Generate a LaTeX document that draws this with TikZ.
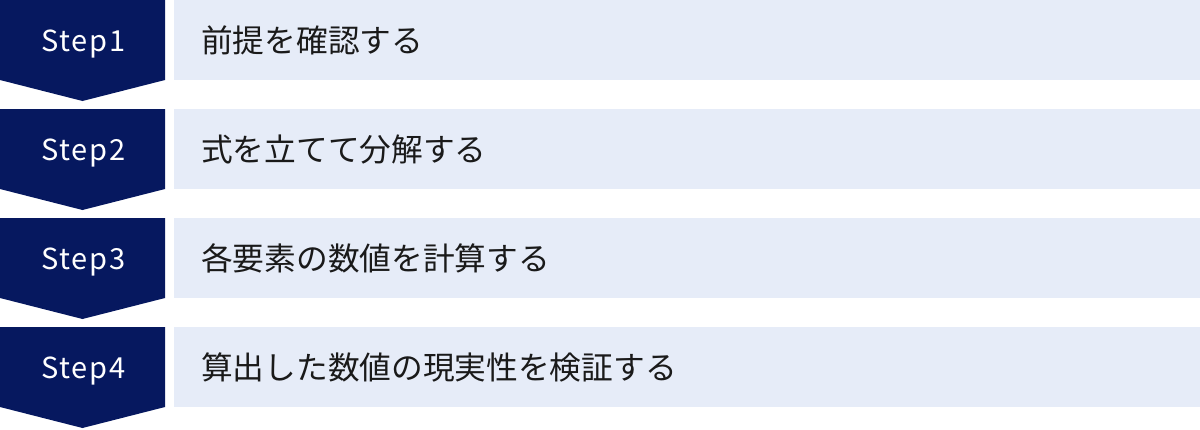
\documentclass[tikz,border=0pt]{standalone}
\usepackage{fontspec}
\setmainfont{Noto Sans CJK JP}
\newfontfamily\stepfont[LetterSpace=6]{Noto Sans CJK JP}
\definecolor{navy}{HTML}{06185F}
\definecolor{paleblue}{HTML}{E6ECF8}
\definecolor{ink}{HTML}{1A1A1A}

\tikzstyle{stepbox} = [fill=navy]
\tikzstyle{steplabel} = [text=white, anchor=base, font=\stepfont\fontsize{29}{29}\selectfont, inner sep=0pt]
\tikzstyle{taskbox} = [fill=paleblue, anchor=north west, minimum width=1026pt,
			minimum height=80pt, inner sep=0pt]
\tikzstyle{tasktext} = [text=ink, anchor=west, font=\fontsize{31.7}{32}\selectfont, inner sep=0pt]

\begin{document}
\begin{tikzpicture}[x=1pt,y=-1pt]
\useasboundingbox (0,0) rectangle (1200,429);
\foreach \i/\task in {1/前提を確認する,
			2/式を立てて分解する,
			3/各要素の数値を計算する,
			4/算出した数値の現実性を検証する}
{
	\pgfmathsetmacro{\top}{(\i-1)*109}
	\fill[stepbox] (0,\top) -- (165,\top) -- ++(0,80) -- ++(-82.5,21)
		-- (0,\top+80) -- cycle;
	\node [steplabel] (s\i) at (83.5,\top+51.5) {Step\i};
	\node [taskbox] (t\i) at (174,\top) {};
	\node [tasktext] (l\i) at ([xshift=27pt]t\i.west) {\task};
}
\end{tikzpicture}
\end{document}
